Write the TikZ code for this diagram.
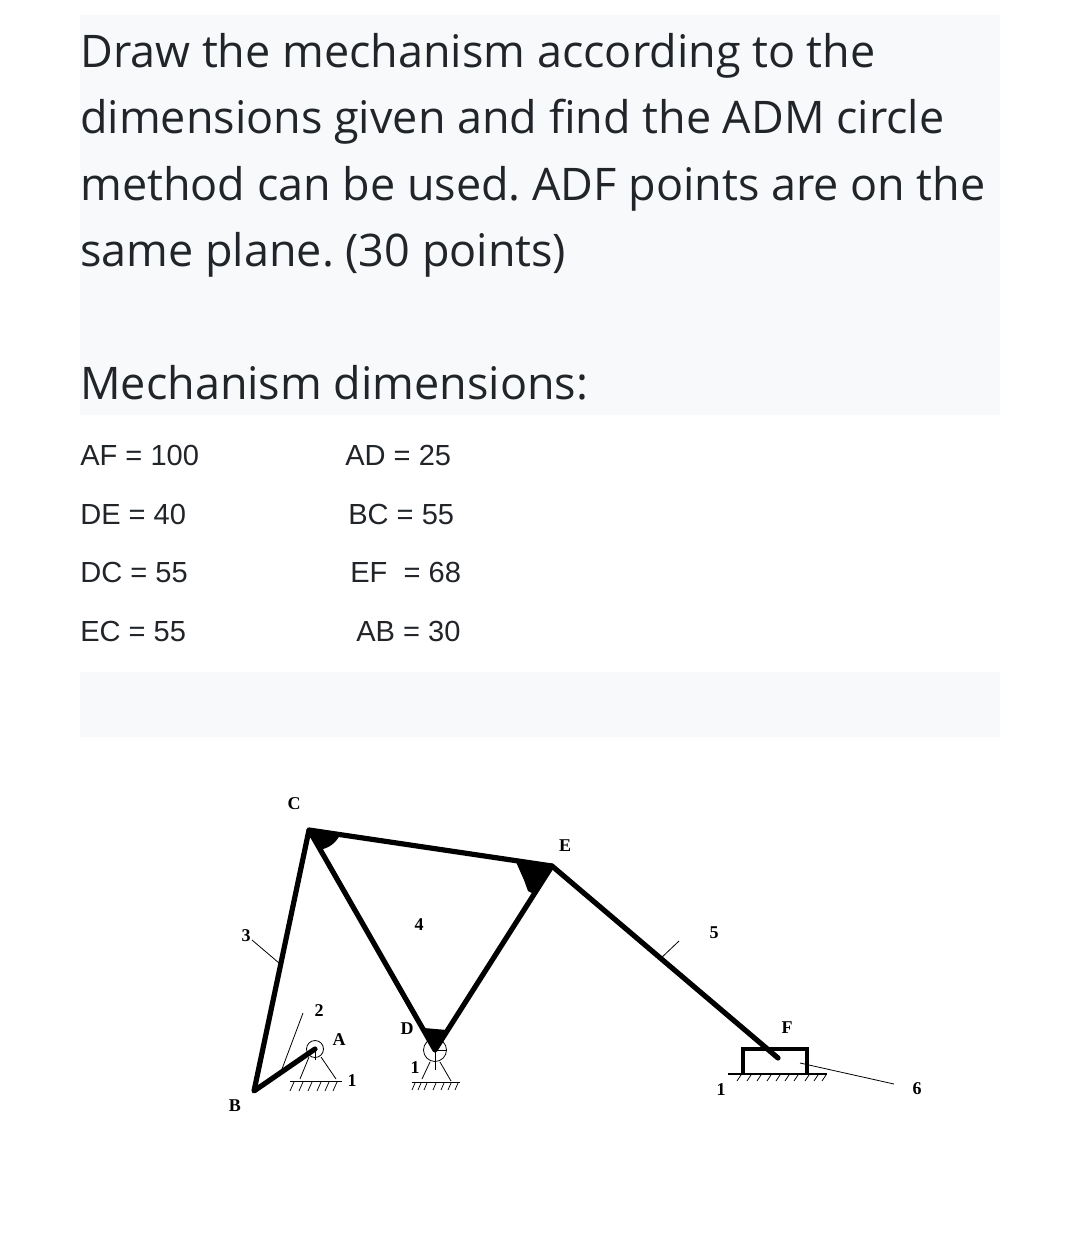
\documentclass[tikz,border=0pt]{standalone}
\usepackage{fontspec}
\setmainfont{Liberation Serif}
\newfontfamily\headfont{Open Sans}
\newfontfamily\dimfont{Liberation Sans}
\usetikzlibrary{positioning}
\definecolor{panelbg}{HTML}{F8F9FA}
\definecolor{inktext}{HTML}{212529}
\frenchspacing
\tikzset{
  headline/.style={anchor=base west,inner sep=0pt,text=inktext,font=\headfont\fontsize{33.7pt}{40pt}\selectfont},
  dimlabel/.style={anchor=base west,inner sep=0pt,text=inktext,font=\dimfont\fontsize{21.8pt}{26pt}\selectfont},
  marklabel/.style={inner sep=0pt,font=\bfseries\fontsize{13.5pt}{15pt}\selectfont},
  link/.style={line width=3.9pt,line cap=round,line join=round},
  thinline/.style={line width=0.6pt},
  hatch/.style={line width=0.55pt},
}
\begin{document}
\begin{tikzpicture}[x=0.75pt,y=-0.75pt]
  \useasboundingbox (0,0) rectangle (1080,1235);
  \fill[panelbg] (80,15) rectangle (1000,415);
  \fill[panelbg] (80,672) rectangle (1000,737);
  % text block
  \node[headline] (line1) at (80,67) {Draw the mechanism according to the};
  \node[headline] (line2) at (80,133) {dimensions given and find the ADM circle};
  \node[headline] (line3) at (80,200) {method can be used. ADF points are on the};
  \node[headline] (line4) at (80,266) {same plane. (30 points)};
  \node[headline] (line5) at (80,399) {Mechanism dimensions:};
  \node[dimlabel] (af) at (80,465) {AF = 100};
  \node[dimlabel] (de) at (80,524) {DE = 40};
  \node[dimlabel] (dc) at (80,582) {DC = 55};
  \node[dimlabel] (ec) at (80,641) {EC = 55};
  \node[dimlabel] (ad) at (345,465) {AD = 25};
  \node[dimlabel] (bc) at (348,524) {BC = 55};
  \node[dimlabel] (ef) at (350,582) {EF\ \ = 68};
  \node[dimlabel] (ab) at (356,641) {AB = 30};
  % joints
  \coordinate (A) at (315,1049);
  \coordinate (B) at (254,1091);
  \coordinate (C) at (309,830);
  \coordinate (D) at (435,1050);
  \coordinate (E) at (552,866);
  \coordinate (F) at (778,1058);
  % ground at A
  \draw[thinline] (A) circle (8.5);
  \coordinate (Aleft) at (300,1079);
  \coordinate (Aright) at (336,1079);
  \draw[thinline] (309,1057) -- (Aleft) (321,1057) -- (Aright);
  \draw[thinline] (A) -- (315,1060);
  \draw[thinline] (290,1081) -- (342,1081);
  \foreach \x in {294,303,312,321,329,337}
    \draw[hatch] (\x,1082) -- ++(-4,9);
  % ground at D
  \draw[thinline] (D) circle (11.5);
  \draw[thinline] (D) -- (447,1050);
  \draw[thinline] (435,1050) -- (435,1070);
  \draw[thinline] (430,1062) -- (422,1079) (440,1062) -- (451,1081);
  \draw[thinline] (412,1082) -- (460,1082);
  \foreach \x in {415,421,427,436,444,451,458}
    \draw[hatch] (\x,1083) -- ++(-3,7);
  % gussets
  \fill (C) -- (340,835) to[bend left=25] (319,850) -- cycle;
  \fill (516,862) -- (552,866) -- (536,895) -- (528,891) -- (524,880) -- cycle;
  \fill (424,1028) -- (447,1030) -- (435,1052) -- cycle;
  % links
  \draw[link] (A) -- (B) -- (C) -- (E) -- (D) -- (C);
  \draw[link] (E) -- (F);
  % slider
  \draw[line width=2.4pt] (743,1073) -- (743,1049) -- (807,1049) -- (807,1073);
  \draw[line width=1.4pt] (728,1074) -- (827,1074);
  \foreach \x in {741,751,761,771,780,789,798,809,818,826}
    \draw[hatch] (\x,1075) -- ++(-4,6);
  % leaders
  \coordinate (lead2a) at (282,1069);
  \coordinate (lead2b) at (303,1013);
  \draw[thinline] (lead2a) -- (lead2b);
  \coordinate (lead3a) at (252,940);
  \coordinate (lead3b) at (279,963);
  \draw[thinline] (lead3a) -- (lead3b);
  \coordinate (lead5a) at (659,960);
  \coordinate (lead5b) at (679,941);
  \draw[thinline] (lead5a) -- (lead5b);
  \coordinate (lead6a) at (800,1063);
  \coordinate (lead6b) at (894,1084);
  \draw[thinline] (lead6a) -- (lead6b);
  % labels
  \node[marklabel] (labC) at (294,804) {C};
  \node[marklabel] (labE) at (565,846) {E};
  \node[marklabel] (labB) at (235,1106) {B};
  \node[marklabel] (labA) at (339,1040) {A};
  \node[marklabel] (labD) at (407,1029) {D};
  \node[marklabel] (labF) at (787,1028) {F};
  \node[marklabel] (lab2) at (319,1011) {2};
  \node[marklabel] (lab3) at (246,936) {3};
  \node[marklabel] (lab4) at (419,925) {4};
  \node[marklabel] (lab5) at (714,933) {5};
  \node[marklabel] (lab6) at (917,1089) {6};
  \node[marklabel] (labA1) at (352,1081) {1};
  \node[marklabel] (labD1) at (415,1068) {1};
  \node[marklabel] (labF1) at (721,1090) {1};
\end{tikzpicture}
\end{document}
